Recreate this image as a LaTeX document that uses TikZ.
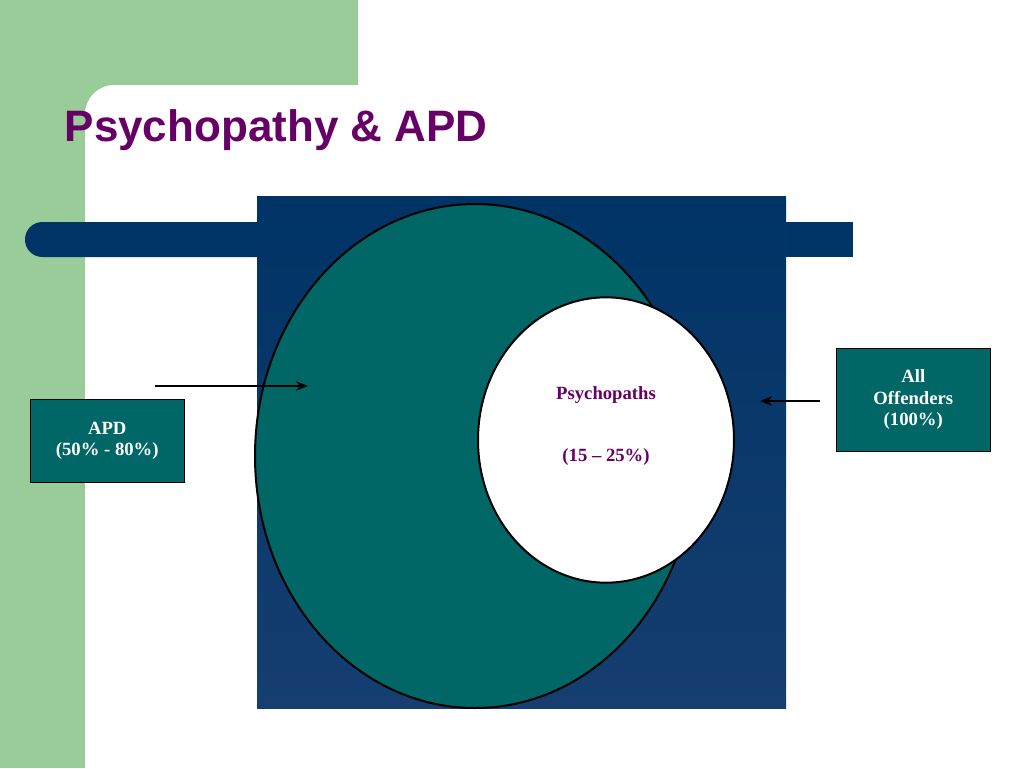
\documentclass[tikz,border=0pt]{standalone}
\usepackage{fontspec}
\setmainfont{Liberation Serif}
\newfontfamily\titlefont{Liberation Sans}
\usetikzlibrary{arrows.meta,shapes.geometric}
\definecolor{bg}{RGB}{153,204,153}
\definecolor{navy}{RGB}{0,51,102}
\definecolor{navyb}{RGB}{22,62,112}
\definecolor{teal}{RGB}{0,102,102}
\definecolor{purp}{RGB}{102,0,102}
\begin{document}
\begin{tikzpicture}[x=0.75pt,y=-0.75pt,
  lbl/.style={draw=black,fill=teal,text=white,font=\fontsize{14}{16}\selectfont\bfseries,align=center,minimum width=115.5pt,minimum height=62pt,inner sep=2pt},
  arr/.style={-{Stealth[length=9pt,width=7pt]},line width=1.8pt}]
\useasboundingbox (0,0) rectangle (1024,768);
\fill[bg] (0,0) rectangle (358,768);
\fill[white,rounded corners=22pt] (85,85) rectangle (1100,900);
\fill[white] (358,0) rectangle (1024,768);
\fill[navy,rounded corners=13pt] (25,222) rectangle (400,257);
\fill[navy] (300,222) rectangle (853,257);
\shade[top color=navy,bottom color=navyb] (257,196) rectangle (786,708);
\node[font=\titlefont\fontsize{33}{36}\selectfont\bfseries,text=purp,anchor=west] (title) at (60,130) {Psychopathy \& APD};
\node[draw=black,line width=1.5pt,fill=teal,ellipse,minimum width=330pt,minimum height=378pt] (apd) at (475,456) {};
\node[draw=black,line width=1.5pt,fill=white,ellipse,minimum width=192pt,minimum height=214pt] (psy) at (606,440) {};
\node[text=purp,font=\fontsize{14}{16}\selectfont\bfseries] (pt) at (606,395) {Psychopaths};
\node[text=purp,font=\fontsize{14}{16}\selectfont\bfseries] (pp) at (606,457) {(15 – 25\%)};
\node[lbl,anchor=north west] (apdbox) at (30,399) {APD\\(50\% - 80\%)};
\node[lbl,anchor=north west,minimum height=77pt] (allbox) at (836,348) {All\\Offenders\\(100\%)};
\coordinate (a1) at (155,386); \coordinate (a2) at (308,386);
\coordinate (b1) at (820,401); \coordinate (b2) at (760,401);
\draw[arr] (a1) -- (a2);
\draw[arr] (b1) -- (b2);
\end{tikzpicture}
\end{document}
